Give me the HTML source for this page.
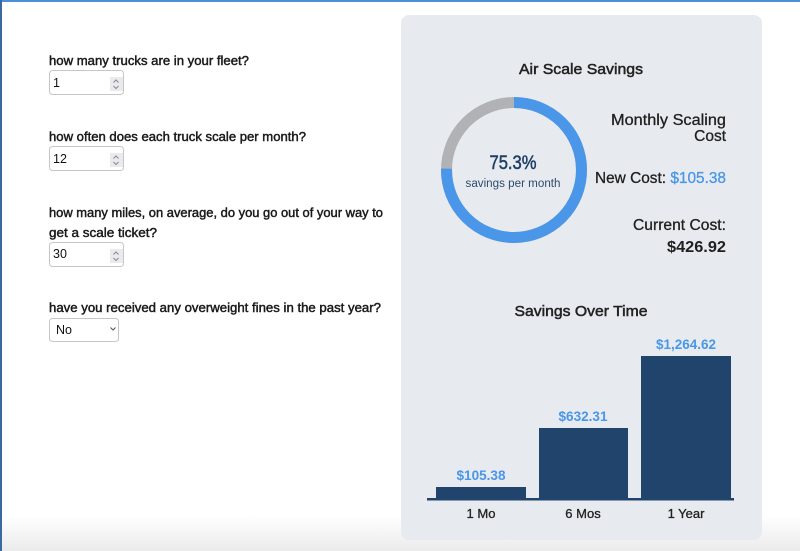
<!DOCTYPE html>
<html><head><meta charset="utf-8"><style>
html,body{margin:0;padding:0;background:#fff;}
body{width:800px;height:551px;overflow:hidden;position:relative;}
svg{position:absolute;left:0;top:0;}
</style></head><body>
<svg width="800" height="551" viewBox="0 0 800 551" xmlns="http://www.w3.org/2000/svg">
<defs>
<linearGradient id="bg" x1="0" y1="0" x2="0" y2="1">
<stop offset="0" stop-color="#ffffff"/><stop offset="1" stop-color="#ebebeb"/>
</linearGradient>
</defs>
<rect x="0" y="0" width="800" height="551" fill="#fff"/>
<rect x="0" y="515" width="800" height="36" fill="url(#bg)"/>
<rect x="0" y="0" width="800" height="2" fill="#4a8fd8"/>
<rect x="0" y="0" width="2" height="551" fill="#3a69a0"/>

<g font-family="Liberation Sans, sans-serif" font-size="12.5" fill="#1a1a1a" stroke="#1a1a1a" stroke-width="0.45">
<text x="49" y="65" textLength="200" lengthAdjust="spacingAndGlyphs">how many trucks are in your fleet?</text>
<text x="49" y="141" textLength="257" lengthAdjust="spacingAndGlyphs">how often does each truck scale per month?</text>
<text x="49" y="217" textLength="334" lengthAdjust="spacingAndGlyphs">how many miles, on average, do you go out of your way to</text>
<text x="49" y="237" textLength="108" lengthAdjust="spacingAndGlyphs">get a scale ticket?</text>
<text x="49" y="312" textLength="332" lengthAdjust="spacingAndGlyphs">have you received any overweight fines in the past year?</text>
</g>

<g stroke="#c6c6c6" fill="#fff">
<rect x="49.5" y="70.5" width="74" height="24" rx="3"/>
<rect x="49.5" y="146.5" width="74" height="24" rx="3"/>
<rect x="49.5" y="242.5" width="74" height="24" rx="3"/>
<rect x="49.5" y="318.5" width="69" height="23" rx="3"/>
</g>
<g fill="#e9e9ee">
<rect x="110" y="77" width="13" height="14"/>
<rect x="110" y="153" width="13" height="14"/>
<rect x="110" y="249" width="13" height="14"/>
</g>
<g stroke="#8a8a8a" stroke-width="1" fill="none">
<path d="M113.5 82.5 L116 80 L118.5 82.5 M113.5 86 L116 88.5 L118.5 86"/>
<path d="M113.5 158.5 L116 156 L118.5 158.5 M113.5 162 L116 164.5 L118.5 162"/>
<path d="M113.5 254.5 L116 252 L118.5 254.5 M113.5 258 L116 260.5 L118.5 258"/>
<path d="M110.5 327.5 L113 330 L115.5 327.5" stroke="#555"/>
</g>
<g font-family="Liberation Sans, sans-serif" font-size="12.5" fill="#111">
<text x="53" y="87">1</text>
<text x="53" y="163">12</text>
<text x="53" y="258">30</text>
<text x="56" y="334">No</text>
</g>

<rect x="401" y="15" width="361" height="525" rx="8" fill="#e7ebef"/>

<g font-family="Liberation Sans, sans-serif" fill="#222" stroke="#222" stroke-width="0.5">
<text x="581" y="74" font-size="15" text-anchor="middle" textLength="124" lengthAdjust="spacingAndGlyphs">Air Scale Savings</text>
<text x="581" y="316" font-size="15" text-anchor="middle" textLength="133" lengthAdjust="spacingAndGlyphs">Savings Over Time</text>
</g>
<g font-family="Liberation Sans, sans-serif" fill="#1f1f1f" stroke="#1f1f1f" stroke-width="0.3">
<text x="726" y="125" font-size="15.5" text-anchor="end" textLength="115" lengthAdjust="spacingAndGlyphs">Monthly Scaling</text>
<text x="726" y="141" font-size="15.5" text-anchor="end">Cost</text>
<text x="726" y="183" font-size="15.5" text-anchor="end" textLength="131" lengthAdjust="spacingAndGlyphs">New Cost: <tspan fill="#4a96e8" stroke="#4a96e8">$105.38</tspan></text>
<text x="726" y="230" font-size="15.5" text-anchor="end" textLength="93" lengthAdjust="spacingAndGlyphs">Current Cost:</text>
<text x="726" y="252" font-size="15.5" font-weight="bold" stroke-width="0" text-anchor="end" textLength="59" lengthAdjust="spacingAndGlyphs">$426.92</text>
</g>

<!-- donut -->
<circle cx="514" cy="170" r="67.5" fill="none" stroke="#b1b2b6" stroke-width="11"/>
<circle cx="514" cy="170" r="67.5" fill="none" stroke="#4a96e8" stroke-width="11"
 stroke-dasharray="319.35 424.12" transform="rotate(-90 514 170)"/>
<text x="513" y="169" font-family="Liberation Sans, sans-serif" font-size="19" text-anchor="middle" fill="#1f3e66" stroke="#1f3e66" stroke-width="0.5" textLength="47" lengthAdjust="spacingAndGlyphs">75.3%</text>
<text x="513" y="187" font-family="Liberation Sans, sans-serif" font-size="11.5" text-anchor="middle" fill="#2f4a6d" textLength="95" lengthAdjust="spacingAndGlyphs">savings per month</text>

<!-- bars -->
<g fill="#21446c">
<rect x="436" y="487" width="90" height="12"/>
<rect x="539" y="428" width="89" height="71"/>
<rect x="641" y="356" width="90" height="143"/>
<rect x="427" y="498" width="307" height="2.5"/>
</g>
<g font-family="Liberation Sans, sans-serif" font-size="14" font-weight="bold" fill="#4a96e8" text-anchor="middle">
<text x="481" y="480" textLength="49" lengthAdjust="spacingAndGlyphs">$105.38</text>
<text x="583" y="421" textLength="49" lengthAdjust="spacingAndGlyphs">$632.31</text>
<text x="686" y="349" textLength="60" lengthAdjust="spacingAndGlyphs">$1,264.62</text>
</g>
<g font-family="Liberation Sans, sans-serif" font-size="13" fill="#222" stroke="#222" stroke-width="0.3" text-anchor="middle">
<text x="481" y="518">1 Mo</text>
<text x="583" y="518">6 Mos</text>
<text x="686" y="518">1 Year</text>
</g>
</svg>
</body></html>
